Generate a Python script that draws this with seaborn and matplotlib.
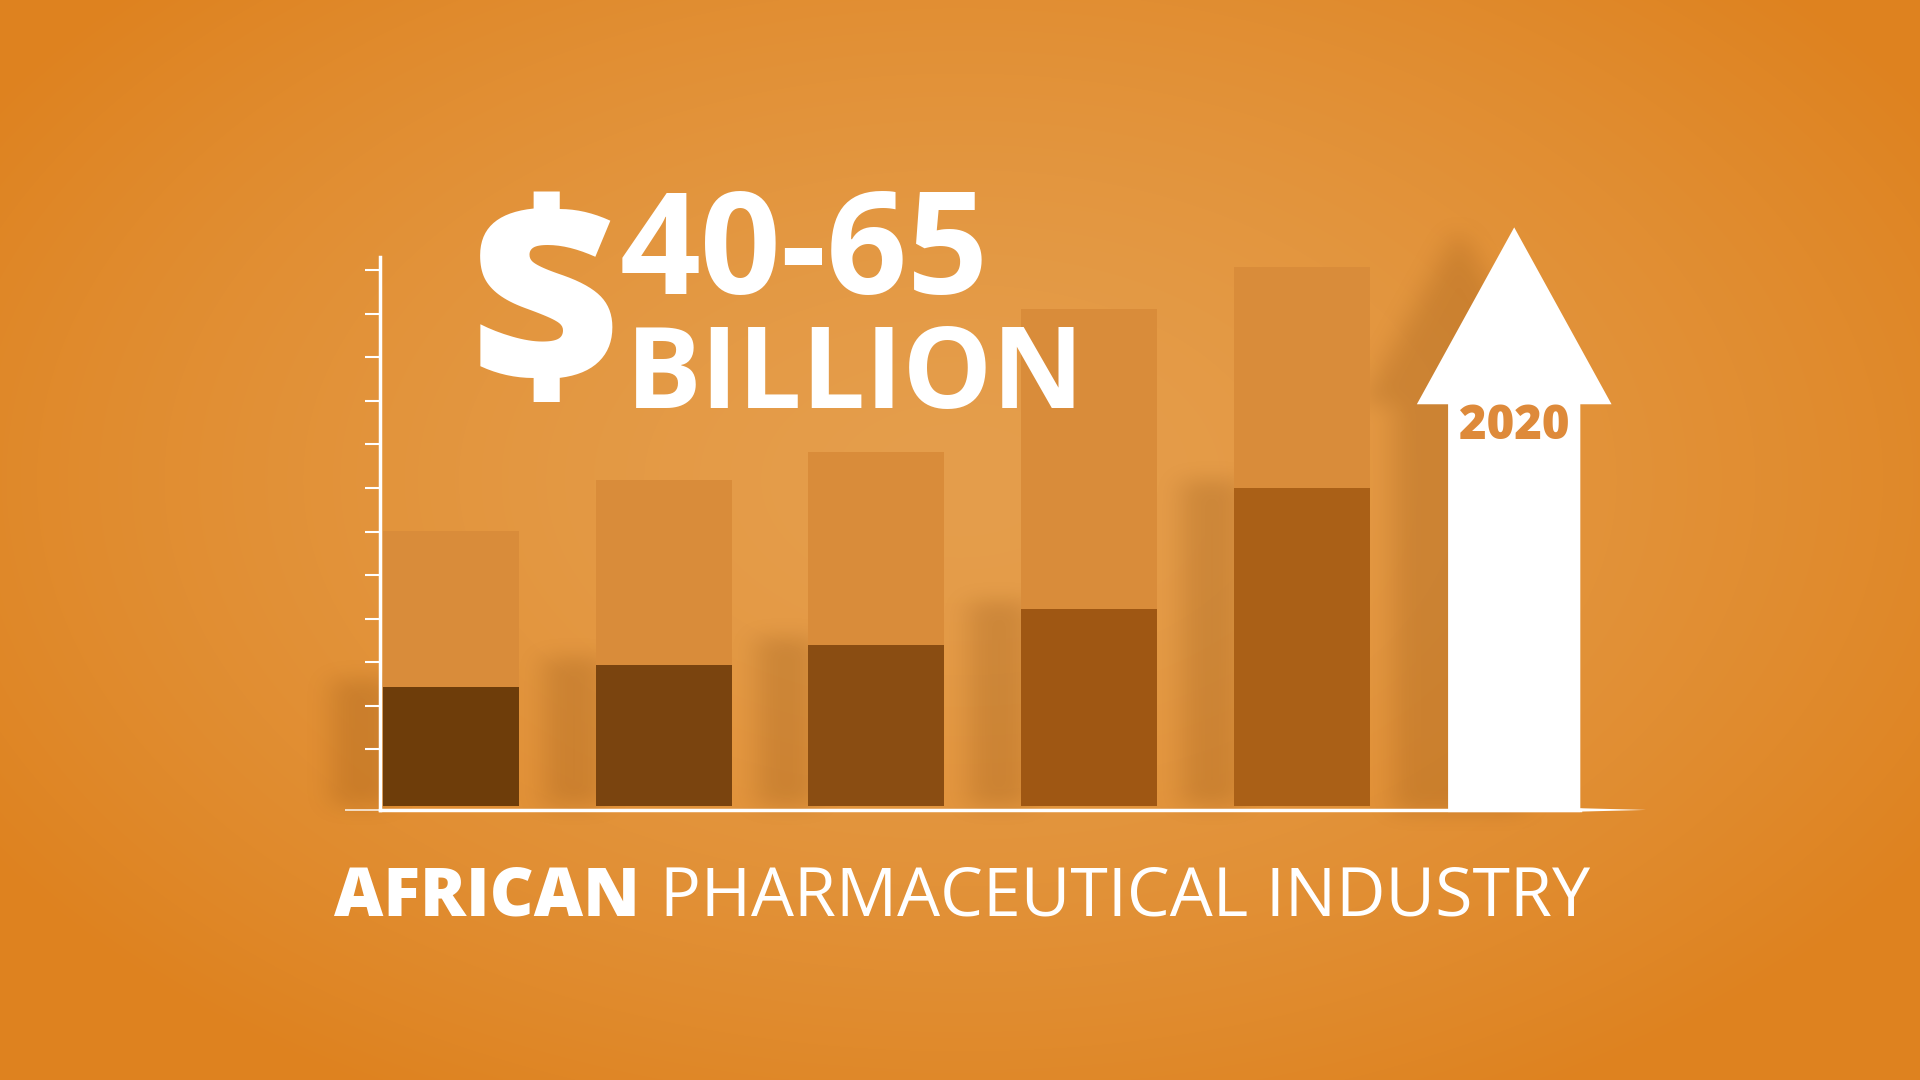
import numpy as np
import matplotlib
matplotlib.use("Agg")
import matplotlib.pyplot as plt
from matplotlib.path import Path
from matplotlib.patches import Polygon
import seaborn as sns

# ---------------- data ----------------
categories = ["Stage 1", "Stage 2", "Stage 3", "Stage 4", "Stage 5"]
lower_values = [13.6, 16.2, 18.5, 22.6, 36.5]
upper_values = [31.6, 37.4, 40.6, 57.0, 61.9]
arrow_label = "2020"
arrow_top = 66.4
arrow_head_base = 46.1
y_ticks = [6.5, 11.5, 16.5, 21.5, 26.5, 31.5, 36.5, 41.5, 46.5, 51.5, 56.5, 61.5]
headline_symbol = "$"
headline_amount = "40-65"
headline_unit = "BILLION"
subtitle_bold = "AFRICAN"
subtitle_light = "PHARMACEUTICAL INDUSTRY"

# ---------------- style ----------------
lower_colors = ["#6E3D0A", "#7A440F", "#8A4D12", "#9F5713", "#AA6017"]
upper_color = "#D98C3A"
label_orange = "#DE8A3A"
bar_width = 0.64

sns.set_theme(style="white")
plt.rcParams['font.family'] = ['Open Sans', 'DejaVu Sans']

W, H = 1920, 1080
fig = plt.figure(figsize=(19.2, 10.8), dpi=100)

# background radial gradient
bg = fig.add_axes([0, 0, 1, 1])
bg.set_axis_off()
yy, xx = np.mgrid[0:H, 0:W] + 0.5
cx, cy = 960, H - 480
r = np.sqrt(((xx - cx) / 1050) ** 2 + ((yy - cy) / 650) ** 2)
t = np.clip(r / 1.1, 0, 1) ** 1.5
c0 = np.array([229, 158, 76]) / 255
c1 = np.array([222, 130, 31]) / 255
img = c0 + (c1 - c0) * t[..., None]
bg.imshow(img, extent=[0, W, 0, H], origin='lower', aspect='auto', zorder=0)
bg.set_xlim(0, W)
bg.set_ylim(0, H)

# chart axes
ax = fig.add_axes([379.6 / W, 274 / H, (1620.5 - 379.6) / W, 549 / H])
ax.patch.set_alpha(0)
sns.barplot(x=categories, y=upper_values, color=upper_color, saturation=1,
            width=bar_width, errorbar=None, ax=ax, zorder=2)
sns.barplot(x=categories, y=lower_values, hue=categories, palette=lower_colors,
            saturation=1, width=bar_width, errorbar=None, legend=False, ax=ax, zorder=3)
for p in ax.patches:
    p.set_edgecolor('none')
ax.set_xlim(-0.337, 5.5)
ax.set_ylim(0, 63)
ax.set_xlabel("")
ax.set_ylabel("")
ax.set_xticks([])
ax.set_yticks(y_ticks)
ax.set_yticklabels([])
ax.tick_params(axis='y', left=True, direction='out', length=10.6, width=1.5,
               color='white', pad=0)
for s in ['top', 'right']:
    ax.spines[s].set_visible(False)
ax.spines['left'].set_color('white')
ax.spines['left'].set_linewidth(2.5)
ax.spines['left'].set_bounds(-0.45, 63)
ax.spines['bottom'].set_color('white')
ax.spines['bottom'].set_linewidth(2.5)
ax.spines['bottom'].set_position(('data', -0.45))
ax.spines['bottom'].set_bounds(-0.337, 5.31)

# base line extensions
ax.plot([-0.5, -0.337], [-0.45, -0.45], color='white', lw=1.2, alpha=0.85,
        clip_on=False, zorder=4, solid_capstyle='butt')
ax.add_patch(Polygon([(5.3, -0.65), (5.3, -0.25), (5.62, -0.45)], closed=True,
                     fc='white', ec='none', clip_on=False, zorder=4))

# arrow for the forecast year
ax_c = len(categories)
sw, hw = 0.311, 0.458
arrow_verts = [(ax_c - sw, -0.7), (ax_c + sw, -0.7), (ax_c + sw, arrow_head_base),
               (ax_c + hw, arrow_head_base), (ax_c, arrow_top),
               (ax_c - hw, arrow_head_base), (ax_c - sw, arrow_head_base)]
ax.add_patch(Polygon(arrow_verts, closed=True, fc='white', ec='none',
                     clip_on=False, zorder=5))
ax.text(ax_c, 42.1, arrow_label, ha='center', va='baseline', fontsize=34,
        fontweight=800, color=label_orange, zorder=6)

# soft shadows (decoration) rendered in pixel space
mask = np.zeros((H, W))
for i, v in enumerate(lower_values):
    x0, y0 = ax.transData.transform((i - bar_width / 2 - 0.24, 0))
    x1, y1 = ax.transData.transform((i - bar_width / 2 + 0.04, v + 1.0))
    mask[int(y0):int(y1), int(x0):int(x1)] = 1.0
shadow_verts = [(x - 0.26, y) for x, y in arrow_verts]
pix = ax.transData.transform(shadow_verts)
pts = np.column_stack([xx.ravel(), yy.ravel()])
amask = Path(pix).contains_points(pts).reshape(H, W).astype(float)
mask = np.maximum(mask, amask)


def box_blur(a, rad, axis):
    k = 2 * rad + 1
    pad = [(0, 0), (0, 0)]
    pad[axis] = (rad + 1, rad)
    ap = np.pad(a, pad, mode='edge')
    c = np.cumsum(ap, axis=axis)
    if axis == 0:
        return (c[k:] - c[:-k]) / k
    return (c[:, k:] - c[:, :-k]) / k


sh = mask
for _ in range(3):
    sh = box_blur(sh, 12, 1)
    sh = box_blur(sh, 9, 0)
rgba = np.zeros((H, W, 4))
rgba[..., 0] = 0.42
rgba[..., 1] = 0.2
rgba[..., 2] = 0.0
rgba[..., 3] = 0.19 * sh
bg.imshow(rgba, extent=[0, W, 0, H], origin='lower', aspect='auto', zorder=1)
bg.set_xlim(0, W)
bg.set_ylim(0, H)

# headline text
fig.text(470 / W, 1 - 387 / H, headline_symbol, fontsize=186, fontweight=800,
         color='white', ha='left', va='baseline', zorder=10)
fig.text(620 / W, 1 - 294 / H, headline_amount, fontsize=102, fontweight='bold',
         color='white', ha='left', va='baseline', zorder=10)
fig.text(626 / W, 1 - 408 / H, headline_unit, fontsize=81, fontweight='bold',
         color='white', ha='left', va='baseline', zorder=10)
fig.text(334 / W, 1 - 916 / H, subtitle_bold, fontsize=49, fontweight=800,
         color='white', ha='left', va='baseline', zorder=10)
fig.text(660 / W, 1 - 916 / H, subtitle_light, fontsize=49, fontweight='normal',
         color='white', ha='left', va='baseline', zorder=10)

fig.savefig("out.png", dpi=100)
